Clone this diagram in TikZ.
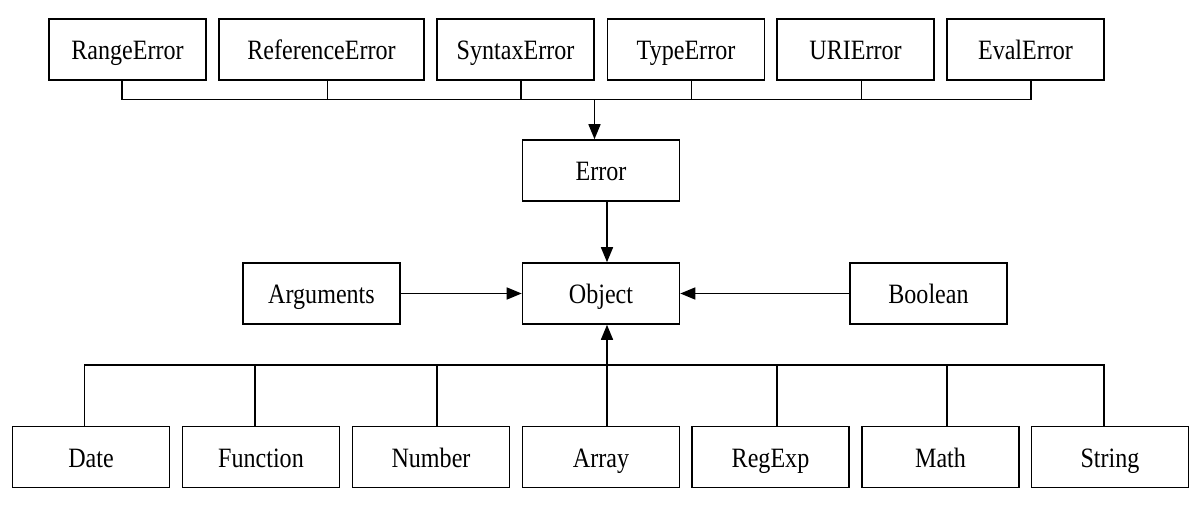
\documentclass[tikz,border=0pt]{standalone}
\usepackage{fontspec}
\setmainfont[FakeStretch=0.86]{Liberation Serif}
\usetikzlibrary{arrows.meta}
\tikzset{
	cls/.style={draw,line width=1.6pt,minimum width=157,minimum height=61,inner sep=0pt,text height=22pt,text depth=2pt,font=\fontsize{28}{30}\selectfont},
	link/.style={line width=1.6pt},
	inherit/.style={line width=1.6pt,-{Triangle[length=15pt,width=12pt]}}
}
\begin{document}
\begin{tikzpicture}[x=1pt,y=-1pt] % scale = 1
					\fill[white] (0,0) rectangle (1203,508);
					% error classes
					\node[cls] (rangeerror) at (127.5,49.5) {RangeError};
					\node[cls,minimum width=205] (referror) at (321.5,49.5) {ReferenceError};
					\node[cls] (syntaxerror) at (515.5,49.5) {SyntaxError};
					\node[cls] (typeerror) at (686,49.5) {TypeError};
					\node[cls] (urierror) at (855.5,49.5) {URIError};
					\node[cls] (evalerror) at (1025.5,49.5) {EvalError};
					\node[cls] (error) at (601,170.5) {Error};
					% middle row
					\node[cls] (object) at (601,293.5) {Object};
					\node[cls] (arguments) at (321.5,293.5) {Arguments};
					\node[cls] (boolean) at (928.5,293.5) {Boolean};
					% built-in classes
					\node[cls] (date) at (91,457) {Date};
					\node[cls] (function) at (261,457) {Function};
					\node[cls] (number) at (431,457) {Number};
					\node[cls] (array) at (601,457) {Array};
					\node[cls] (regexp) at (770.5,457) {RegExp};
					\node[cls] (math) at (940.5,457) {Math};
					\node[cls] (string) at (1110,457) {String};
					\coordinate (topbus) at (594.5,99.5);
					\coordinate (botbus) at (607,365);
					\draw[link] ([xshift=-5.5]rangeerror.south) |- (topbus);
					\draw[link] ([xshift=6]referror.south) |- (topbus);
					\draw[link] ([xshift=5.5]syntaxerror.south) |- (topbus);
					\draw[link] ([xshift=5.5]typeerror.south) |- (topbus);
					\draw[link] ([xshift=6]urierror.south) |- (topbus);
					\draw[link] ([xshift=5.5]evalerror.south) |- (topbus);
					\draw[inherit] (topbus) -- (topbus |- error.north);
					\draw[inherit] ([xshift=6]error.south) -- ([xshift=6]object.north);
					\draw[inherit] (arguments.east) -- (object.west);
					\draw[inherit] (boolean.west) -- (object.east);
					\draw[link] ([xshift=-6.5]date.north) |- (botbus);
					\draw[link] ([xshift=-6]function.north) |- (botbus);
					\draw[link] ([xshift=6]number.north) |- (botbus);
					\draw[link] ([xshift=6.5]regexp.north) |- (botbus);
					\draw[link] ([xshift=6.5]math.north) |- (botbus);
					\draw[link] ([xshift=-6]string.north) |- (botbus);
					\draw[inherit] ([xshift=6]array.north) -- ([xshift=6]object.south);
				\end{tikzpicture}
\end{document}
